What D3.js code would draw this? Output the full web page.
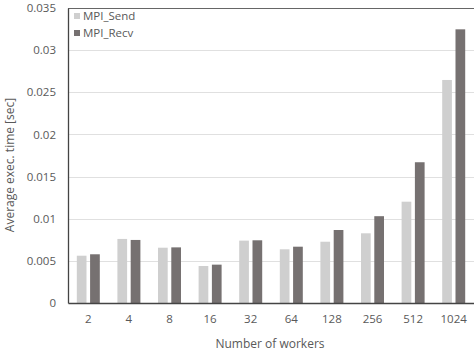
<!DOCTYPE html>
<html>
<head>
<meta charset="utf-8">
<script src="https://cdn.jsdelivr.net/npm/d3@7"></script>
<style>
	body { margin: 0; background: #fff; }
	svg { display: block; font-family: "Open Sans", sans-serif; }
</style>
</head>
<body>
<svg width="474" height="353"></svg>
<script>
const WORKERS = ["2", "4", "8", "16", "32", "64", "128", "256", "512", "1024"];
const SERIES = ["MPI_Send", "MPI_Recv"];
const SEND_TIMES = [0.00561, 0.0076, 0.00656, 0.00439, 0.0074, 0.00637, 0.00727, 0.00827, 0.01202, 0.02646];
const RECV_TIMES = [0.00578, 0.00748, 0.0066, 0.00455, 0.00744, 0.00668, 0.00866, 0.0103, 0.0167, 0.03247];
const Y_TICKS = [0, 0.005, 0.01, 0.015, 0.02, 0.025, 0.03, 0.035];
const BAR_COLORS = ["#cfcfcf", "#767171"];
const SVG_MARGIN = { top: 8, right: 0, bottom: 50, left: 68 };

const build = () => {
	let svg = d3.select("svg");
	let width = +svg.attr("width") - SVG_MARGIN.left - SVG_MARGIN.right;
	let height = +svg.attr("height") - SVG_MARGIN.top - SVG_MARGIN.bottom;
	let g = svg.append("g").attr("transform", "translate(" + SVG_MARGIN.left + "," + SVG_MARGIN.top + ")");

	let data = WORKERS.map((w, i) => ({ key: w, values: [SEND_TIMES[i], RECV_TIMES[i]] }));

	let x0 = d3.scaleBand().domain(WORKERS).range([0, width]).paddingInner(0).paddingOuter(0);
	let x1 = d3.scaleBand().domain(SERIES).range([x0.bandwidth() / 2 - 11.5, x0.bandwidth() / 2 + 11.5]).paddingInner(0.27);
	let y = d3.scaleLinear().domain([0, 0.035]).range([height, 0]);
	let z = d3.scaleOrdinal().domain(SERIES).range(BAR_COLORS);

	// gridlines
	g.append("g")
		.selectAll("line")
		.data(Y_TICKS.slice(1, -1))
		.enter().append("line")
		.attr("x1", 0).attr("x2", width)
		.attr("y1", (d) => Math.round(y(d)) + 0.5).attr("y2", (d) => Math.round(y(d)) + 0.5)
		.attr("stroke", "#e0e0e0");

	// bars
	g.append("g")
		.selectAll("g")
		.data(data)
		.enter().append("g")
		.attr("transform", (d) => "translate(" + x0(d.key) + ",0)")
		.selectAll("rect")
		.data((d) => d.values.map((v, i) => ({ key: SERIES[i], value: v })))
		.enter().append("rect")
		.attr("x", (d) => x1(d.key))
		.attr("y", (d) => y(d.value))
		.attr("width", x1.bandwidth())
		.attr("height", (d) => height - y(d.value))
		.attr("fill", (d) => z(d.key));

	// frame: top border, left and bottom axes
	g.append("line").attr("x1", 0).attr("x2", width).attr("y1", 0.5).attr("y2", 0.5).attr("stroke", "#666").attr("stroke-width", 1.2);

	let yAxis = g.append("g")
		.call(d3.axisLeft(y).tickValues(Y_TICKS).tickSize(0).tickPadding(12).tickFormat((d) => d === 0 ? "0" : String(+d.toFixed(3))));
	yAxis.select(".domain").attr("stroke", "#444").attr("stroke-width", 1.3);
	yAxis.selectAll("text").attr("fill", "#595959").attr("font-size", 11.5).attr("font-family", "Open Sans, sans-serif");

	let xAxis = g.append("g")
		.attr("transform", "translate(0," + height + ")")
		.call(d3.axisBottom(x0).tickSize(0).tickPadding(12));
	xAxis.select(".domain").attr("stroke", "#444").attr("stroke-width", 1.3);
	xAxis.selectAll("text").attr("fill", "#595959").attr("font-size", 11.5).attr("font-family", "Open Sans, sans-serif");

	// axis titles
	svg.append("text")
		.attr("x", 270).attr("y", 348)
		.attr("text-anchor", "middle")
		.attr("fill", "#595959").attr("font-size", 12)
		.text("Number of workers");

	svg.append("text")
		.attr("transform", "translate(14,165) rotate(-90)")
		.attr("text-anchor", "middle")
		.attr("fill", "#595959").attr("font-size", 12)
		.text("Average exec. time [sec]");

	// legend
	let legend = svg.append("g")
		.selectAll("g")
		.data(SERIES)
		.enter().append("g")
		.attr("transform", (d, i) => "translate(74," + (13 + i * 17) + ")");

	legend.append("rect")
		.attr("width", 6).attr("height", 6)
		.attr("fill", z);

	legend.append("text")
		.attr("x", 9).attr("y", 3)
		.attr("dy", "0.38em")
		.attr("fill", "#595959").attr("font-size", 11.5)
		.text((d) => d);
};

build();
</script>
</body>
</html>
